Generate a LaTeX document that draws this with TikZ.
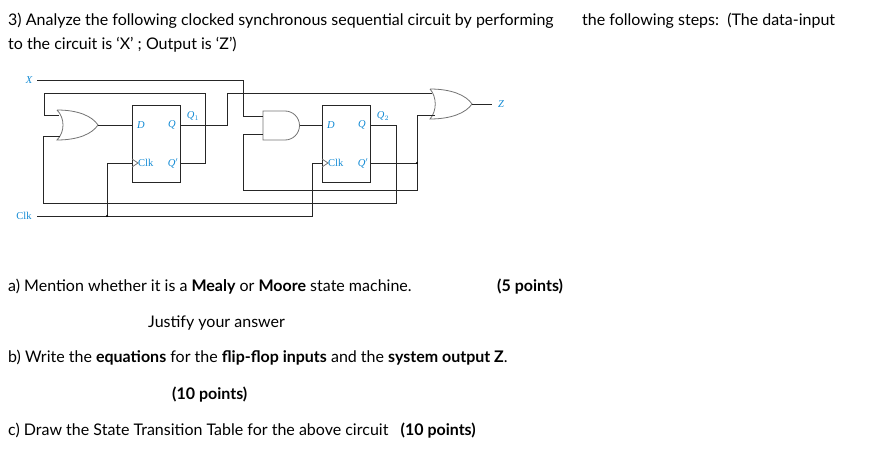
\documentclass[tikz,border=0pt]{standalone}
\usepackage{fontspec}
\setmainfont{Lato}
\newfontfamily\lblfont{Liberation Serif}
\begin{document}
\begin{tikzpicture}[x=1pt,y=-1pt,
  wire/.style={line width=0.8pt,black!85},
  gate/.style={line width=0.8pt,black!55},
  lbl/.style={font=\lblfont\fontsize{10.5}{12}\selectfont,text=cyan!70!blue,inner sep=1pt},
  txt/.style={font=\fontsize{16}{19}\selectfont,anchor=west,inner sep=0pt},
  dot/.style={circle,fill=black,inner sep=0pt,minimum size=2.2pt}]
\useasboundingbox (0,0) rectangle (875,457);

% text
\node[txt] (t1) at (8,21) {3) Analyze the following clocked synchronous sequential circuit by performing};
\node[txt] (t2) at (582,21) {the following steps:\ \ (The data-input};
\node[txt] (t3) at (8,45) {to the circuit is ‘X’ ; Output is ‘Z’)};
\node[txt] (a) at (8,287) {a) Mention whether it is a \textbf{Mealy} or \textbf{Moore} state machine.};
\node[txt] (ap) at (497,287) {\textbf{(5 points)}};
\node[txt] (j) at (148,323) {Justify your answer};
\node[txt] (b) at (8,358) {b) Write the \textbf{equations} for the \textbf{flip-flop inputs} and the \textbf{system output Z}.};
\node[txt] (bp) at (172,395) {\textbf{(10 points)}};
\node[txt] (c) at (8,431) {c) Draw the State Transition Table for the above circuit\ \ \ \textbf{(10 points)}};

% gates
\draw[gate] (57,110) .. controls (65,118) and (65,132) .. (57,140)
  .. controls (78,140) and (92,134) .. (98,125)
  .. controls (92,116) and (78,110) .. (57,110);
\draw[gate] (263,111) -- (285,111) arc[start angle=-90,end angle=90,radius=14.5] -- (263,140) -- cycle;
\draw[gate] (430,89) .. controls (437,97) and (437,111) .. (430,119)
  .. controls (451,119) and (466,113) .. (472,104)
  .. controls (466,95) and (451,89) .. (430,89);

% flip-flops
\draw[wire] (132,105) rectangle (180,182);
\draw[wire] (322,105) rectangle (370,182);
\draw[gate] (132,159) -- (138,163) -- (132,167);
\draw[gate] (322,159) -- (328,163) -- (322,167);
\node[lbl] (d1) at (141,125) {\itshape D};
\node[lbl] (q1) at (172,125) {\itshape Q};
\node[lbl] (qn1) at (173,163) {\itshape Q$'$};
\node[lbl,anchor=west] (c1) at (137,163) {Clk};
\node[lbl] (q1l) at (193,116) {\itshape Q$_1$};
\node[lbl] (d2) at (331,125) {\itshape D};
\node[lbl] (q2) at (362,125) {\itshape Q};
\node[lbl] (qn2) at (363,163) {\itshape Q$'$};
\node[lbl,anchor=west] (c2) at (327,163) {Clk};
\node[lbl] (q2l) at (383,116) {\itshape Q$_2$};
\node[lbl] (xl) at (29,80) {\itshape X};
\node[lbl] (zl) at (501,104) {\itshape Z};
\node[lbl] (clkl) at (24,216) {Clk};

% wires
\draw[wire] (37,80) -- (243,80) -- (243,116) -- (263,116);
\draw[wire] (98,125) -- (132,125);
\draw[wire] (300,125) -- (322,125);
\draw[wire] (472,104) -- (492,104);
\draw[wire] (180,125) -- (227,125) -- (227,93) -- (432,93);
\draw[wire] (180,163) -- (205,163) -- (205,93) -- (44,93) -- (44,115) -- (59,115);
\draw[wire] (370,125) -- (396,125) -- (396,203) -- (43,203) -- (43,136) -- (60,136);
\draw[wire] (370,163) -- (417,163) coordinate (j2);
\draw[wire] (j2) -- (417,190) -- (243,190) -- (243,134) -- (263,134);
\draw[wire] (j2) -- (417,115) -- (435,115);
\draw[wire] (37,216) -- (312,216) -- (312,163) -- (322,163);
\draw[wire] (107,216) coordinate (j1) -- (107,163) -- (132,163);
\node[dot] (dj1) at (j1) {};
\node[dot] (dj2) at (j2) {};
\end{tikzpicture}
\end{document}
